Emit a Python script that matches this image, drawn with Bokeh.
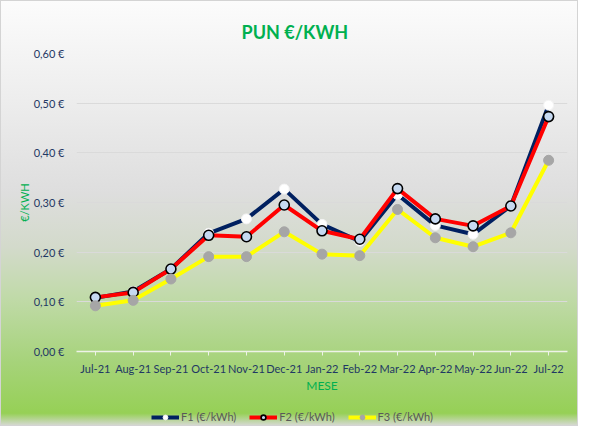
from bokeh.plotting import figure
from bokeh.layouts import column
from bokeh.models import (FactorRange, Range1d, FixedTicker, CustomJSTickFormatter,
                          Legend, LegendItem, Title)
from bokeh.embed import file_html
from bokeh.resources import INLINE

months = ["Jul-21", "Aug-21", "Sep-21", "Oct-21", "Nov-21", "Dec-21", "Jan-22",
          "Feb-22", "Mar-22", "Apr-22", "May-22", "Jun-22", "Jul-22"]
f1 = [0.108, 0.121, 0.166, 0.238, 0.267, 0.327, 0.256, 0.222, 0.316, 0.254, 0.236, 0.293, 0.496]
f2 = [0.109, 0.119, 0.166, 0.234, 0.231, 0.295, 0.243, 0.226, 0.328, 0.267, 0.253, 0.293, 0.473]
f3 = [0.092, 0.103, 0.146, 0.191, 0.191, 0.241, 0.196, 0.193, 0.286, 0.229, 0.211, 0.239, 0.385]
y_ticks = [0.0, 0.1, 0.2, 0.3, 0.4, 0.5, 0.6]
series_names = ["F1 (€/kWh)", "F2 (€/kWh)", "F3 (€/kWh)"]

FONT = "Lato"
GREEN = "#00b050"
NAVY = "#1f3864"

line_styles = [dict(line_color="#002060", line_width=4, line_join="round"),
               dict(line_color="#ff0000", line_width=4, line_join="round"),
               dict(line_color="#ffff00", line_width=4, line_join="round")]
marker_styles = [dict(size=10, fill_color="white", line_color="#f4f4f4", line_width=1),
                 dict(size=10, fill_color="#c6d9f1", line_color="black", line_width=1.6),
                 dict(size=10, fill_color="#a6a6a6", line_color="#a6a6a6", line_width=1)]

p = figure(width=578, height=395, x_range=FactorRange(*months, range_padding=0),
           y_range=Range1d(0, 0.6), output_backend="svg", toolbar_location=None,
           min_border_left=76, min_border_right=11, min_border_top=53, min_border_bottom=42)
p.border_fill_alpha = 0
p.background_fill_alpha = 0
p.outline_line_color = None

title = Title(text="PUN €/KWH", align="left", text_color=GREEN, text_font=FONT,
              text_font_size="18px", text_font_style="bold", standoff=22, offset=165)
p.add_layout(title, "above")

# grid
p.xgrid.grid_line_color = None
p.ygrid.grid_line_color = "#dadada"
p.ygrid.grid_line_width = 1.2
p.ygrid.ticker = FixedTicker(ticks=y_ticks)

# y axis
p.yaxis.ticker = FixedTicker(ticks=y_ticks)
p.yaxis.formatter = CustomJSTickFormatter(code="return tick.toFixed(2).replace('.', ',') + ' €';")
p.yaxis.axis_line_color = None
p.yaxis.major_tick_line_color = None
p.yaxis.minor_tick_line_color = None
p.yaxis.major_label_standoff = 6
p.yaxis.major_label_text_font = FONT
p.yaxis.major_label_text_font_size = "11px"
p.yaxis.major_label_text_color = NAVY
p.yaxis.axis_label = "€/KWH"
p.yaxis.axis_label_text_font = FONT
p.yaxis.axis_label_text_font_size = "11px"
p.yaxis.axis_label_text_font_style = "normal"
p.yaxis.axis_label_text_color = GREEN
p.yaxis.axis_label_standoff = 0

# x axis
p.xaxis.axis_line_color = "#eef2e8"
p.xaxis.axis_line_width = 1.5
p.xaxis.major_tick_line_color = "#eef2e8"
p.xaxis.major_tick_out = 4
p.xaxis.major_tick_in = 0
p.xaxis.major_label_standoff = 6
p.xaxis.major_label_text_font = FONT
p.xaxis.major_label_text_font_size = "11px"
p.xaxis.major_label_text_color = NAVY
p.xaxis.axis_label = "MESE"
p.xaxis.axis_label_text_font = FONT
p.xaxis.axis_label_text_font_size = "12px"
p.xaxis.axis_label_text_font_style = "normal"
p.xaxis.axis_label_text_color = GREEN
p.xaxis.axis_label_standoff = 0

# series
for vals, ls, ms in zip([f1, f2, f3], line_styles, marker_styles):
    p.line(months, vals, **ls)
    p.scatter(months, vals, **ms)

# legend strip: same series drawn out of view so only their legend glyphs show
pl = figure(width=578, height=31, x_range=FactorRange(*months, range_padding=0),
            y_range=Range1d(0.7, 0.8), output_backend="svg", toolbar_location=None,
            min_border=0)
pl.axis.visible = False
pl.grid.grid_line_color = None
pl.outline_line_color = None
pl.border_fill_alpha = 0
pl.background_fill_alpha = 0
items = []
for name, vals, ls, ms in zip(series_names, [f1, f2, f3], line_styles, marker_styles):
    r_line = pl.line(months, vals, **ls)
    r_mark = pl.scatter(months, vals, **ms)
    items.append(LegendItem(label=name, renderers=[r_line, r_mark]))
legend = Legend(items=items, orientation="horizontal", location=(75, 3),
                background_fill_alpha=0, border_line_color=None,
                label_text_font=FONT, label_text_font_size="11px", label_text_color="#595959",
                glyph_width=28, glyph_height=12, label_standoff=2, spacing=13, padding=2, margin=0)
pl.add_layout(legend, "center")

layout = column(p, pl, spacing=0)
layout.styles = {"background": "linear-gradient(to bottom, #fcfcfc 0%, #ececec 25%, #dedede 45%, "
                               "#d3dacb 58%, #c0daa8 70%, #a6d37a 85%, #96d056 97%, #d9d9d9 100%)",
                 "box-shadow": "inset 0 0 0 1px #d4d4d4"}

open("out.html", "w").write(file_html(layout, INLINE))
